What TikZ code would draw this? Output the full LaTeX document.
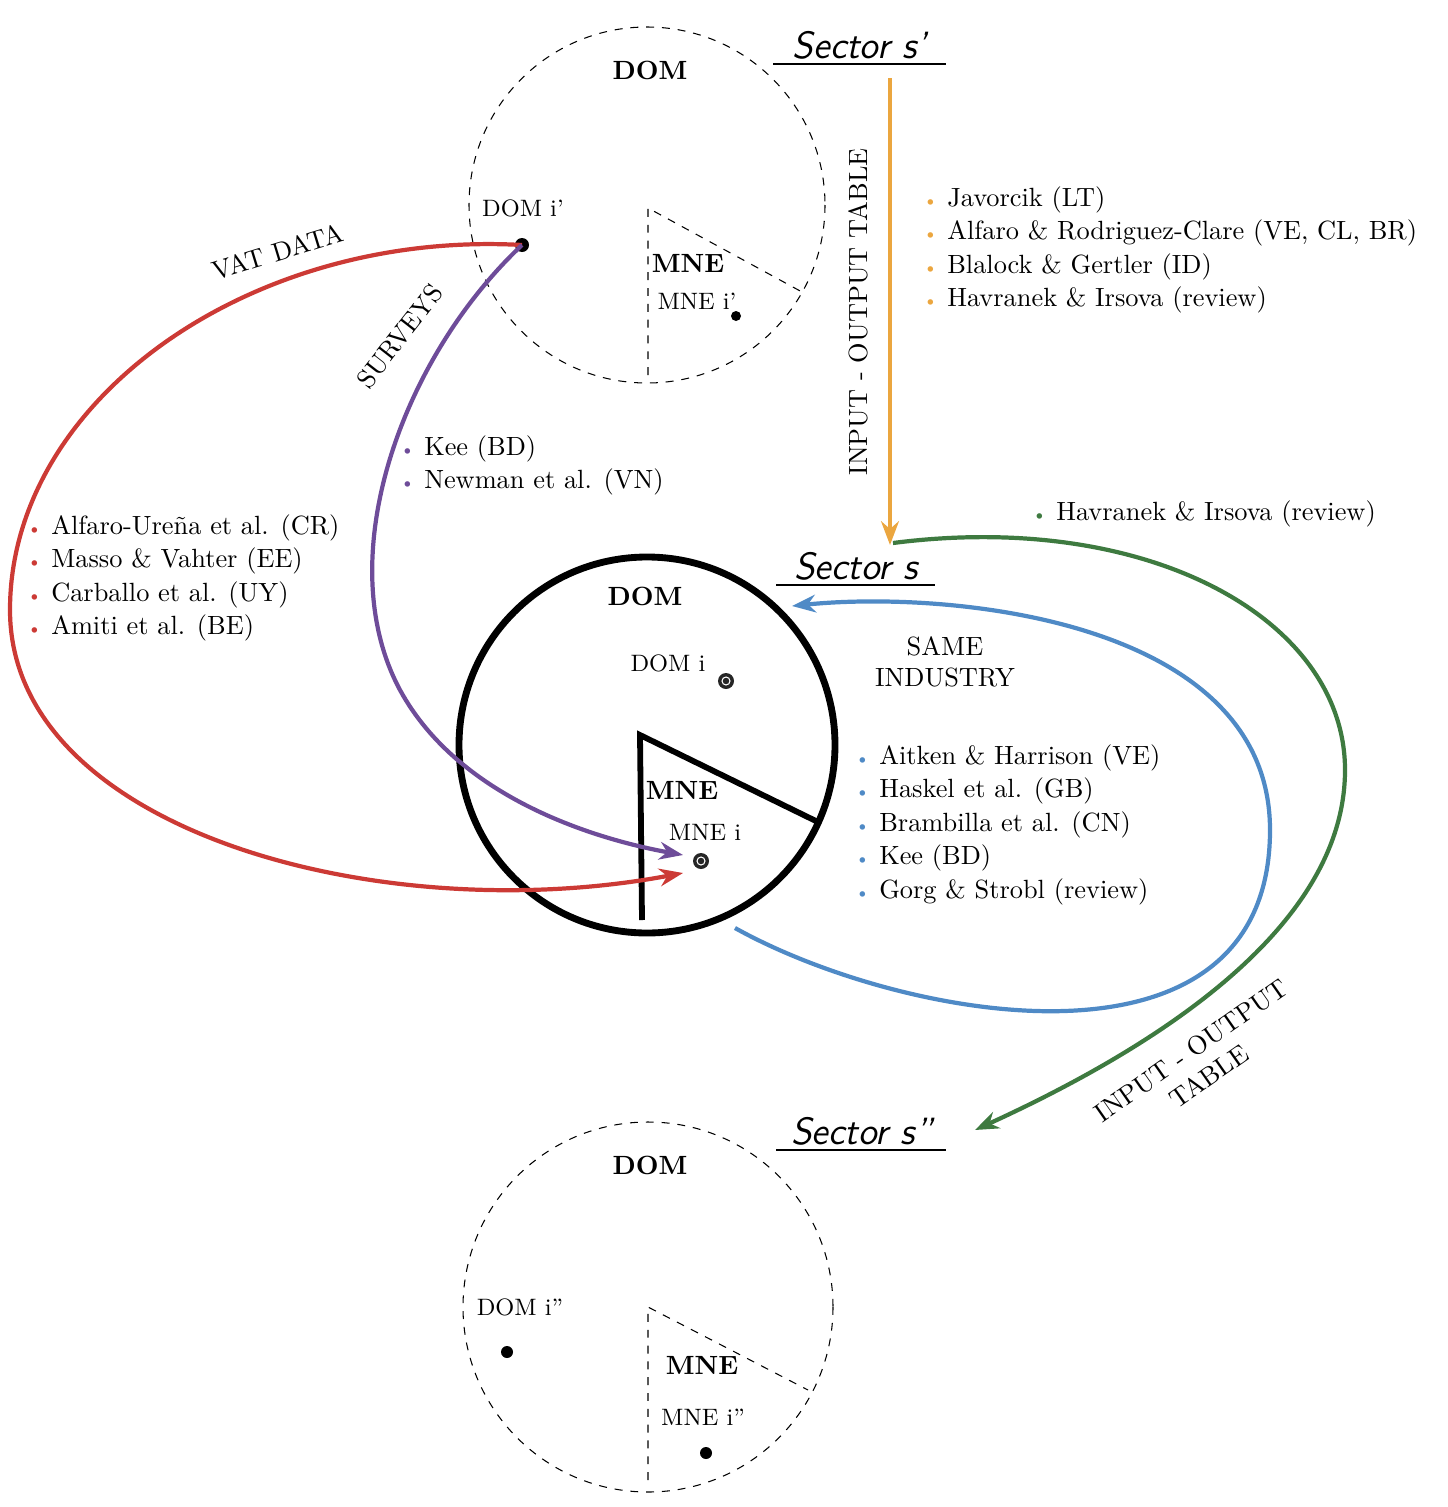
\documentclass[tikz,border=0pt]{standalone}
\usepackage{tikz}
\usetikzlibrary{calc,positioning,arrows.meta}
\definecolor{vatRed}{HTML}{CC3A35}
\definecolor{surPurple}{HTML}{6E4C99}
\definecolor{indBlue}{HTML}{4F8AC6}
\definecolor{ioGreen}{HTML}{3E7A40}
\definecolor{ioOrange}{HTML}{EBA63F}
\tikzset{
  sector/.style={font=\Large\sffamily\itshape},
  firmlbl/.style={font=\small},
  grplbl/.style={font=\bfseries},
  item/.style={anchor=west, font=\normalsize},
  flow/.style={line width=1.6pt, -{Stealth[length=9pt]}},
}
\newcommand{\bul}[1]{\textcolor{#1}{\scriptsize\textbullet}}
\begin{document}
\begin{tikzpicture}[x=0.01333cm, y=-0.01333cm]
  \useasboundingbox (0,0) rectangle (1447,1507);

  % Sector s'
  \draw[dashed] (647,205) circle (178);
  \draw[dashed] (648,375) -- (648,208) -- (802,292);
  \node[grplbl] (domA) at (650,70) {DOM};
  \node[firmlbl] (domiA) at (523,208) {DOM i'};
  \fill (522,245) circle (7) coordinate (dA);
  \node[grplbl] (mneA) at (688,263) {MNE};
  \node[firmlbl] (mneiA) at (697,301) {MNE i'};
  \fill (736,316) circle (5);

  % Sector s
  \draw[line width=2.6pt] (647,745) circle (188);
  \draw[line width=2.2pt] (642,920) -- (640,735) -- (820,823);
  \node[grplbl] (domB) at (645,596) {DOM};
  \node[firmlbl] (domiB) at (668,663) {DOM i};
  \fill[black!85] (726,681) circle (8); \draw[white] (726,681) circle (4);
  \node[grplbl] (mneB) at (682,790) {MNE};
  \node[firmlbl] (mneiB) at (705,832) {MNE i};
  \fill[black!85] (701,861) circle (8); \draw[white] (701,861) circle (4);

  % Sector s''
  \draw[dashed] (648,1307) circle (185);
  \draw[dashed] (648,1480) -- (648,1307) -- (808,1390);
  \node[grplbl] (domC) at (650,1165) {DOM};
  \node[firmlbl] (domiC) at (520,1307) {DOM i''};
  \fill (507,1352) circle (6);
  \node[grplbl] (mneC) at (702,1365) {MNE};
  \node[firmlbl] (mneiC) at (703,1417) {MNE i''};
  \fill (706,1453) circle (6);

  % Sector titles
  \node[sector] (secA) at (860,45) {Sector s'};
  \node[sector] (secB) at (856,566) {Sector s};
  \node[sector] (secC) at (862,1131) {Sector s''};
  \draw (773,64) -- (946,64);
  \draw (776,585) -- (935,585);
  \draw (776,1150) -- (946,1150);

  % Input-output upstream
  \coordinate (oTop) at (890,78);
  \coordinate (oEnd) at (890,545);
  \draw[flow, ioOrange] (oTop) -- (oEnd);
  \node[rotate=90] (ioA) at (858,312) {INPUT - OUTPUT TABLE};
  \foreach \t [count=\k] in {Javorcik (LT), {Alfaro \& Rodriguez-Clare (VE, CL, BR)}, Blalock \& Gertler (ID), Havranek \& Irsova (review)}
    \node[item] at (913,166+33.5*\k) {\bul{ioOrange}\ \t};

  % Input-output downstream
  \coordinate (gStart) at (893,543);
  \coordinate (gEnd) at (975,1130);
  \draw[flow, ioGreen] (gStart) .. controls (1150,510) and (1345,620) .. (1345,770)
    .. controls (1345,930) and (1150,1050) .. (gEnd);
  \node[item] at (1022,514) {\bul{ioGreen}\ Havranek \& Irsova (review)};
  \node[rotate=35, align=center] (ioB) at (1200,1063) {INPUT - OUTPUT\\TABLE};

  % Same industry
  \coordinate (bStart) at (735,928);
  \coordinate (bEnd) at (792,606);
  \draw[flow, indBlue] (bStart) .. controls (900,1020) and (1270,1090) .. (1270,830)
    .. controls (1270,620) and (950,590) .. (bEnd);
  \node[align=center] (same) at (945,662) {SAME\\INDUSTRY};
  \foreach \t [count=\k] in {Aitken \& Harrison (VE), Haskel et al. (GB), Brambilla et al. (CN), Kee (BD), Gorg \& Strobl (review)}
    \node[item] at (845,724+33.5*\k) {\bul{indBlue}\ \t};

  % VAT data
  \coordinate (rEnd) at (683,873);
  \draw[flow, vatRed] (dA) .. controls (250,230) and (10,400) .. (10,610)
    .. controls (10,830) and (380,930) .. (rEnd);
  \node[rotate=17] (vat) at (278,252) {VAT DATA};
  \foreach \t [count=\k] in {Alfaro-Ureña et al. (CR), Masso \& Vahter (EE), Carballo et al. (UY), Amiti et al. (BE)}
    \node[item] at (17,494+33.5*\k) {\bul{vatRed}\ \t};

  % Surveys
  \coordinate (pEnd) at (683,855);
  \draw[flow, surPurple] (dA) .. controls (400,360) and (330,560) .. (400,690)
    .. controls (460,800) and (600,840) .. (pEnd);
  \node[rotate=52] (surv) at (400,336) {SURVEYS};
  \foreach \t [count=\k] in {Kee (BD), Newman et al. (VN)}
    \node[item] at (390,415+33.5*\k) {\bul{surPurple}\ \t};
\end{tikzpicture}
\end{document}
